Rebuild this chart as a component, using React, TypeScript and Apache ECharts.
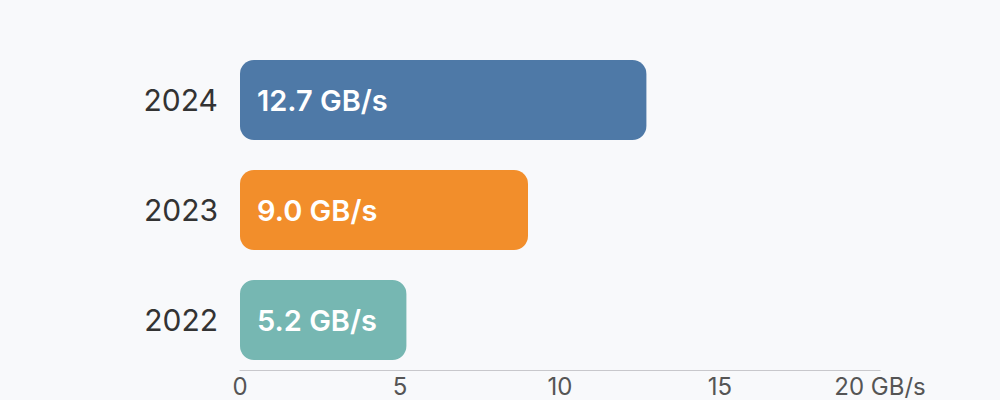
import React, { useEffect, useRef } from "react";
import * as echarts from "echarts";

// read-out values (GB/s)
const years = ["2024", "2023", "2022"];
const speeds = [12.7, 9.0, 5.2];
const barColors = ["#4e79a7", "#f28e2b", "#76b7b2"];
const xTicks = [0, 5, 10, 15, 20];
const unit = "GB/s";

const FONT = "Inter, 'Noto Sans', sans-serif";

export default function App() {
  const chartRef = useRef<HTMLDivElement>(null);

  useEffect(() => {
    if (!chartRef.current) return;
    document.body.style.margin = "0";

    const chart = echarts.init(chartRef.current, undefined, { renderer: "svg" });

    const option: echarts.EChartsOption = {
      animation: false,
      backgroundColor: "#f8f9fb",
      grid: {
        left: 240,
        right: 120,
        top: 45,
        bottom: 25,
        containLabel: false,
      },
      xAxis: {
        type: "value",
        min: xTicks[0],
        max: xTicks[xTicks.length - 1],
        interval: 5,
        offset: -5,
        splitLine: { show: false },
        axisTick: { show: false },
        axisLine: { show: true, lineStyle: { color: "#c8c8cc", width: 1.2 } },
        axisLabel: {
          color: "#555",
          fontFamily: FONT,
          fontSize: 24,
          margin: 4,
          formatter: (v: number) => (v === xTicks[xTicks.length - 1] ? `${v} ${unit}` : `${v}`),
        },
      },
      yAxis: {
        type: "category",
        data: years,
        inverse: true,
        axisLine: { show: false },
        axisTick: { show: false },
        axisLabel: {
          color: "#333",
          fontFamily: FONT,
          fontSize: 30,
          margin: 22,
        },
      },
      series: [
        {
          type: "bar",
          barWidth: 80,
          data: speeds.map((v, i) => ({
            value: v,
            itemStyle: { color: barColors[i], borderRadius: 14 },
          })),
          label: {
            show: true,
            position: "insideLeft",
            distance: 17,
            color: "#fff",
            fontFamily: FONT,
            fontSize: 29,
            fontWeight: 600,
            formatter: (p: any) => `${p.value.toFixed(1)} ${unit}`,
          },
        },
      ],
    };

    chart.setOption(option);

    const handleResize = () => chart.resize();
    window.addEventListener("resize", handleResize);

    return () => {
      window.removeEventListener("resize", handleResize);
      chart.dispose();
    };
  }, []);

  return <div ref={chartRef} style={{ width: 1000, height: 400 }} />;
}
